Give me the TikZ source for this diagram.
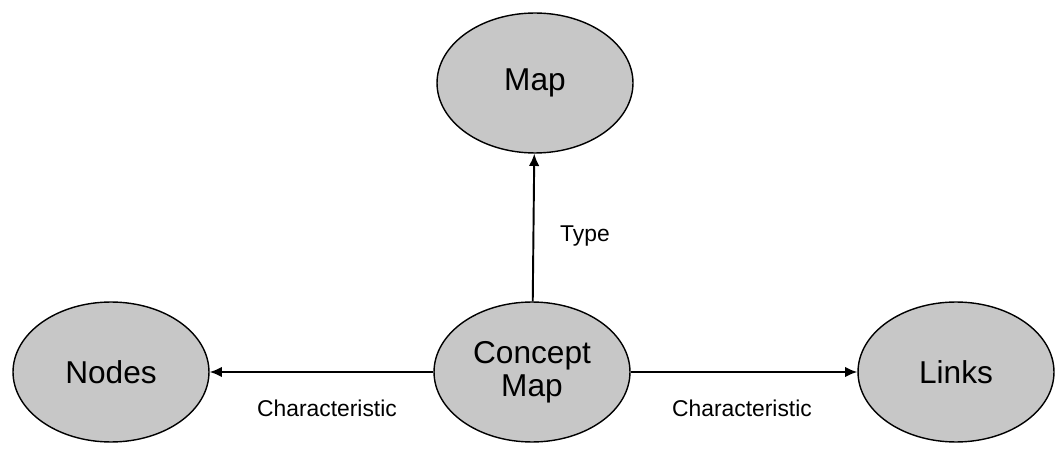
\documentclass[tikz,border=0pt]{standalone}
\usepackage{fontspec}
\setmainfont{Liberation Sans}
\usetikzlibrary{arrows.meta,shapes.geometric}
\begin{document}
\begin{tikzpicture}[x=0.02cm,y=-0.02cm,
  concept/.style={draw,line width=0.8pt,fill=black!22,ellipse,minimum width=3.92cm,minimum height=2.8cm,inner sep=0pt,align=center,font=\fontsize{18}{19}\selectfont},
  conn/.style={-{Latex[length=7pt,width=6pt]},line width=1.1pt},
  lab/.style={font=\fontsize{13}{14}\selectfont}]
\useasboundingbox (0,0) rectangle (1061,455);
\node[concept] (map) at (535,83) {Map};
\node[concept] (cm) at (532,372) {Concept\\Map};
\node[concept] (nodes) at (111,372) {Nodes};
\node[concept] (links) at (956,372) {Links};
\draw[conn] (cm) -- (map);
\draw[conn] (cm) -- (nodes);
\draw[conn] (cm) -- (links);
\node[lab] (t) at (585,236) {Type};
\node[lab] (c1) at (327,408) {Characteristic};
\node[lab] (c2) at (742,408) {Characteristic};
\end{tikzpicture}
\end{document}
